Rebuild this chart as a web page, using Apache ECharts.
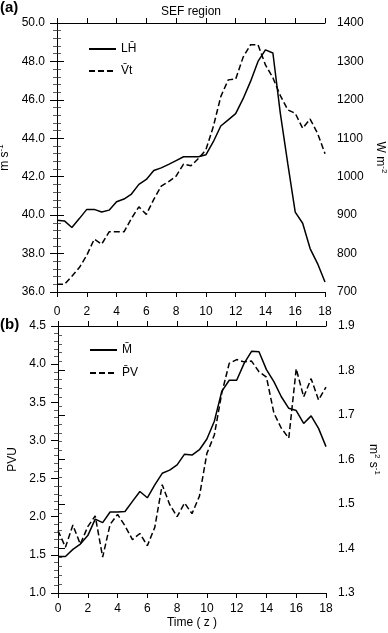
<!DOCTYPE html>
<html>
<head>
<meta charset="utf-8">
<script src="https://cdn.jsdelivr.net/npm/echarts@6/dist/echarts.min.js"></script>
<style>
html,body{margin:0;padding:0;background:#fff;}
#c{width:388px;height:633px;}
</style>
</head>
<body>
<div id="c"></div>
<script>
// Time (z)
var times = [0,0.5,1,1.5,2,2.5,3,3.5,4,4.5,5,5.5,6,6.5,7,7.5,8,8.5,9,9.5,10,10.5,11,11.5,12,12.5,13,13.5,14,14.5,15,15.5,16,16.5,17,17.5,18];
var xTicks = [0,2,4,6,8,10,12,14,16,18];
// Panel (a): LH (W m-2, right axis), Vt (m s-1, left axis)
var LH = [887,885,868,891,915,915,908,913,935,942,955,980,993,1016,1023,1032,1042,1052,1052,1052,1057,1091,1132,1148,1164,1203,1248,1300,1330,1322,1165,1034,908,879,813,774,726];
var Vt = [36.40,36.40,36.82,37.27,37.91,38.75,38.49,39.13,39.13,39.13,39.83,40.43,40.04,40.82,41.51,41.74,42.03,42.66,42.57,42.95,43.40,44.61,46.17,47.04,47.08,48.22,48.87,48.87,47.82,47.15,46.22,45.48,45.30,44.52,45.00,44.26,43.20];
// Panel (b): M (m2 s-1, right axis), PV (PVU, left axis)
var M = [1.382,1.382,1.398,1.410,1.429,1.466,1.458,1.482,1.482,1.483,1.506,1.528,1.514,1.543,1.569,1.576,1.588,1.612,1.610,1.622,1.646,1.686,1.753,1.778,1.778,1.816,1.843,1.842,1.802,1.775,1.741,1.715,1.710,1.681,1.698,1.670,1.629];
var PV = [1.82,1.60,1.89,1.64,1.87,2.01,1.47,1.90,2.03,1.88,1.70,1.78,1.62,1.86,2.42,2.16,2.00,2.18,2.04,2.27,2.83,3.07,3.62,4.01,4.06,4.03,4.04,3.90,3.83,3.36,3.16,3.03,3.94,3.57,3.81,3.53,3.70];

function pairs(arr){ return times.map(function(t,i){ return [t, arr[i]]; }); }

var FONT = '"Liberation Sans", Arial, Helvetica, sans-serif';
var BLACK = '#000';
var axLine = {show:true, lineStyle:{color:BLACK, width:1}};
var tickMajor = {show:true, length:7, lineStyle:{color:BLACK, width:1}};
var minorT = {show:true, splitNumber:5, length:4, lineStyle:{color:'#333', width:0.8}};
var lbl = {color:BLACK, fontSize:12, fontFamily:FONT};

function xAx(grid, showLabels, pos, name, margin){
  return {
    type:'value', gridIndex:grid, position:pos, min:0, max:18, interval:2,
    axisLine:axLine, axisTick:{show:true, length:5, lineStyle:{color:BLACK,width:1}},
    axisLabel: showLabels ? Object.assign({margin:margin}, lbl) : {show:false},
    splitLine:{show:false},
    name: name || '', nameLocation:'middle', nameGap:24,
    nameTextStyle:{color:BLACK, fontSize:12, fontFamily:FONT}
  };
}
function yAx(grid, pos, min, max, interval, dec, name, gap, rot, rich){
  return {
    type:'value', gridIndex:grid, position:pos, min:min, max:max, interval:interval,
    axisLine:axLine, axisTick:tickMajor, minorTick:minorT,
    axisLabel: Object.assign({margin:12, formatter:function(v){ return dec>=0 ? v.toFixed(dec) : String(v); }}, lbl),
    splitLine:{show:false}, minorSplitLine:{show:false},
    name:name, nameLocation:'middle', nameGap:gap, nameRotate:rot,
    nameTextStyle:{color:BLACK, fontSize:12, fontFamily:FONT, rich:rich}
  };
}
var supRich = {
  a:{fontSize:12, fontFamily:FONT, color:BLACK},
  s:{fontSize:8, fontFamily:FONT, color:BLACK, padding:[0,0,7,0]}
};

var solid = {color:BLACK, width:1.5, type:'solid'};
var dashed = {color:BLACK, width:1.5, type:[6,3]};
var legendItemStyle = {opacity:0};

var option = {
  backgroundColor:'#fff',
  animation:false,
  title:{text:'SEF region', left:186, top:1, textAlign:'center',
    textStyle:{fontSize:12, fontWeight:'normal', color:BLACK, fontFamily:FONT}},
  graphic:[
    {type:'text', left:0, top:0, style:{text:'(a)', font:'bold 15px '+FONT, fill:BLACK}},
    {type:'text', left:0, top:317, style:{text:'(b)', font:'bold 15px '+FONT, fill:BLACK}}
  ],
  legend:[
    {left:83, top:38, orient:'vertical', itemWidth:27, itemHeight:14, itemGap:10,
     itemStyle:legendItemStyle, data:['LH\u0304','V\u0304t'],
     textStyle:{color:BLACK, fontSize:12, fontFamily:FONT}},
    {left:84, top:339, orient:'vertical', itemWidth:27, itemHeight:14, itemGap:11,
     itemStyle:legendItemStyle, data:['M\u0304','P\u0304V'],
     textStyle:{color:BLACK, fontSize:12, fontFamily:FONT}}
  ],
  grid:[
    {left:57, right:63, top:23, height:269, containLabel:false, outerBoundsMode:'none'},
    {left:58, right:62, top:326, height:267, containLabel:false, outerBoundsMode:'none'}
  ],
  xAxis:[
    xAx(0, true, 'bottom', '', 14),
    xAx(0, false, 'top'),
    xAx(1, true, 'bottom', 'Time ( z )', 10),
    xAx(1, false, 'top')
  ],
  yAxis:[
    yAx(0, 'left', 36, 50, 2, 1, '{a|m s}{s|-1}', 42, 90, supRich),
    yAx(0, 'right', 700, 1400, 100, 0, '{a|W m}{s|-2}', 46, -90, supRich),
    yAx(1, 'left', 1.0, 4.5, 0.5, 1, 'PVU', 38, 90, supRich),
    yAx(1, 'right', 1.3, 1.9, 0.1, 1, '{a|m}{s|2}{a| s}{s|-1}', 40, -90, supRich)
  ],
  series:[
    {name:'LH\u0304', type:'line', xAxisIndex:0, yAxisIndex:1, data:pairs(LH), symbol:'none', lineStyle:solid, itemStyle:{color:BLACK}},
    {name:'V\u0304t', type:'line', xAxisIndex:0, yAxisIndex:0, data:pairs(Vt), symbol:'none', lineStyle:dashed, itemStyle:{color:BLACK}},
    {name:'M\u0304', type:'line', xAxisIndex:2, yAxisIndex:3, data:pairs(M), symbol:'none', lineStyle:solid, itemStyle:{color:BLACK}},
    {name:'P\u0304V', type:'line', xAxisIndex:2, yAxisIndex:2, data:pairs(PV), symbol:'none', lineStyle:dashed, itemStyle:{color:BLACK}}
  ]
};
var chart = echarts.init(document.getElementById('c'), null, {renderer:'canvas'});
chart.setOption(option);
</script>
</body>
</html>
